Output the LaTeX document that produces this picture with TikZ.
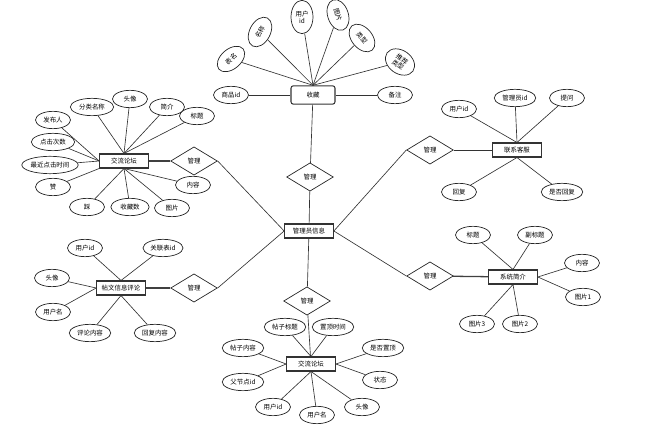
\documentclass[tikz,border=0pt]{standalone}
\usepackage{fontspec}
\setmainfont{Noto Sans CJK SC}
\usetikzlibrary{shapes, positioning}

\begin{document}
\begin{tikzpicture}[
        x=0.03cm, y=-0.03cm,
        font=\fontsize{5.5}{6}\selectfont,
        entity/.style={rectangle, minimum width=1.46cm, minimum height=0.42cm, inner sep=1pt, text centered, draw=black!80, line width=0.9pt, fill=white},
        attr/.style={ellipse, minimum width=1.05cm, minimum height=0.52cm, inner sep=0.5pt, text centered, draw=black!85, line width=0.6pt, fill=white},
        relation/.style={diamond, minimum width=1.4cm, minimum height=0.85cm, inner sep=0pt, text centered, draw=black!85, line width=0.6pt, fill=white},
        link/.style={black!80, line width=0.55pt},
        strong/.style={black!75, line width=1.1pt}
        ]
        \useasboundingbox (0,0) rectangle (661,432);

        % admin in the middle
        \node (admin) [entity] at (309,231) {管理员信息};

        % favourites
        \node (fav) [entity, rounded corners=2pt, minimum width=1.32cm, minimum height=0.55cm] at (313,95) {收藏};
        \node (favref) [attr] at (231,95) {商品id};
        \node (favnote) [attr] at (395,95) {备注};
        \node (favtab) [attr, rotate=40, minimum width=0.95cm, minimum height=0.6cm] at (231,59) {表名};
        \node (favname) [attr, rotate=62, minimum width=0.95cm, minimum height=0.62cm] at (260,32) {名称};
        \node (favuser) [attr, align=center, minimum width=0.66cm, minimum height=1cm] at (302,17) {用户\\id};
        \node (favpic) [attr, rotate=-72, minimum width=0.95cm, minimum height=0.62cm] at (338,15) {图片};
        \node (favtype) [attr, rotate=-50, minimum width=0.95cm, minimum height=0.62cm] at (362,38) {类型};
        \node (favrec) [attr, rotate=-35, align=center, minimum width=0.95cm, minimum height=0.7cm] at (400,62) {推荐\\类型};
        \node (relfav) [relation] at (310,177) {管理};

        % news
        \node (news) [entity] at (124,161) {交流论坛};
        \node (npub) [attr] at (53,120) {发布人};
        \node (nclick) [attr, minimum width=1.3cm] at (53,142) {点击次数};
        \node (nlast) [attr, minimum width=1.45cm] at (50,165) {最近点击时间};
        \node (nup) [attr] at (53,187) {赞};
        \node (ndown) [attr] at (87,207) {踩};
        \node (nstore) [attr, minimum width=1.15cm] at (130,207) {收藏数};
        \node (npic) [attr] at (172,208) {图片};
        \node (ncont) [attr] at (193,185) {内容};
        \node (ntitle) [attr] at (197,116) {标题};
        \node (nintro) [attr] at (167,107) {简介};
        \node (nhead) [attr] at (130,99) {头像};
        \node (ncat) [attr, minimum width=1.3cm] at (92,107) {分类名称};
        \node (relnews) [relation] at (194,161) {管理};

        % comments
        \node (cmt) [entity] at (121,288) {帖文信息评论};
        \node (cuser) [attr] at (85,248) {用户id};
        \node (cref) [attr, minimum width=1.2cm] at (163,248) {关联表id};
        \node (chead) [attr] at (52,278) {头像};
        \node (cname) [attr] at (53,312) {用户名};
        \node (ccont) [attr, minimum width=1.25cm] at (90,333) {评论内容};
        \node (creply) [attr, minimum width=1.25cm] at (155,333) {回复内容};
        \node (relcmt) [relation] at (194,288) {管理};

        % forum
        \node (forum) [entity] at (311,364) {交流论坛};
        \node (ftitle) [attr, minimum width=1.25cm] at (285,327) {帖子标题};
        \node (ftime) [attr, minimum width=1.25cm] at (333,327) {置顶时间};
        \node (fcont) [attr, minimum width=1.25cm] at (243,348) {帖子内容};
        \node (ftop) [attr, minimum width=1.25cm] at (383,348) {是否置顶};
        \node (fparent) [attr, minimum width=1.25cm] at (243,382) {父节点id};
        \node (fstate) [attr] at (380,380) {状态};
        \node (fuser) [attr] at (273,407) {用户id};
        \node (fname) [attr] at (317,415) {用户名};
        \node (fhead) [attr] at (362,407) {头像};
        \node (relforum) [relation] at (307,301) {管理};

        % customer service
        \node (chat) [entity] at (517,150) {联系客服};
        \node (kuser) [attr] at (459,109) {用户id};
        \node (kadmin) [attr, minimum width=1.25cm] at (515,98) {管理员id};
        \node (kask) [attr] at (567,98) {提问};
        \node (kreply) [attr] at (459,192) {回复};
        \node (kisre) [attr, minimum width=1.25cm] at (562,192) {是否回复};
        \node (relchat) [relation] at (430,150) {管理};

        % about
        \node (about) [entity] at (513,277) {系统简介};
        \node (atitle) [attr] at (473,235) {标题};
        \node (asub) [attr] at (535,235) {副标题};
        \node (acont) [attr] at (582,263) {内容};
        \node (apic1) [attr] at (583,297) {图片1};
        \node (apic3) [attr] at (477,324) {图片3};
        \node (apic2) [attr] at (520,324) {图片2};
        \node (relabout) [relation] at (430,276) {管理};

        % relations
        \draw [link] (fav) -- (relfav);
        \draw [link] (relfav) -- (admin);
        \draw [strong] (news) -- (relnews);
        \draw [link] (relnews.east) -- (admin.west);
        \draw [strong] (cmt) -- (relcmt);
        \draw [link] (relcmt.east) -- (admin.west);
        \draw [link] (admin) -- (relforum);
        \draw [link] (relforum) -- (forum);
        \draw [link] (chat) -- (relchat);
        \draw [link] (relchat.west) -- (admin.east);
        \draw [strong] (about) -- (relabout);
        \draw [link] (relabout.west) -- (admin.east);

        % favourite attributes
        \draw [link] (fav.west) -- (favref);
        \draw [link] (fav.east) -- (favnote);
        \draw [link] (fav.north) -- (favtab);
        \draw [link] (fav.north) -- (favname);
        \draw [link] (fav.north) -- (favuser);
        \draw [link] (fav.north) -- (favpic);
        \draw [link] (fav.north) -- (favtype);
        \draw [link] (fav.north) -- (favrec);

        % news attributes
        \draw [link] (news.west) -- (npub);
        \draw [link] (news.west) -- (nclick);
        \draw [link] (news.west) -- (nlast);
        \draw [link] (news.south west) -- (nup);
        \draw [link] (news.south) -- (ndown);
        \draw [link] (news.south) -- (nstore);
        \draw [link] (news.south) -- (npic);
        \draw [link] (news.south) -- (ncont);
        \draw [link] (news.north) -- (ntitle);
        \draw [link] (news.north) -- (nintro);
        \draw [link] (news.north) -- (nhead);
        \draw [link] (news.north) -- (ncat);

        % comment attributes
        \draw [link] (cmt.north) -- (cuser);
        \draw [link] (cmt.north) -- (cref);
        \draw [link] (cmt.west) -- (chead);
        \draw [link] (cmt.west) -- (cname);
        \draw [link] (cmt.south) -- (ccont);
        \draw [link] (cmt.south) -- (creply);

        % forum attributes
        \draw [link] (forum.north) -- (ftitle);
        \draw [link] (forum.north) -- (ftime);
        \draw [link] (forum.west) -- (fcont);
        \draw [link] (forum.west) -- (fparent);
        \draw [link] (forum.east) -- (ftop);
        \draw [link] (forum.east) -- (fstate);
        \draw [link] (forum.south) -- (fuser);
        \draw [link] (forum.south) -- (fname);
        \draw [link] (forum.south) -- (fhead);

        % customer service attributes
        \draw [link] (chat.north) -- (kuser);
        \draw [link] (chat.north) -- (kadmin);
        \draw [link] (chat.north) -- (kask);
        \draw [link] (chat.south) -- (kreply);
        \draw [link] (chat.south) -- (kisre);

        % about attributes
        \draw [link] (about.north) -- (atitle);
        \draw [link] (about.north) -- (asub);
        \draw [link] (about.east) -- (acont);
        \draw [link] (about.east) -- (apic1);
        \draw [link] (about.south) -- (apic3);
        \draw [link] (about.south) -- (apic2);

    \end{tikzpicture}
\end{document}
